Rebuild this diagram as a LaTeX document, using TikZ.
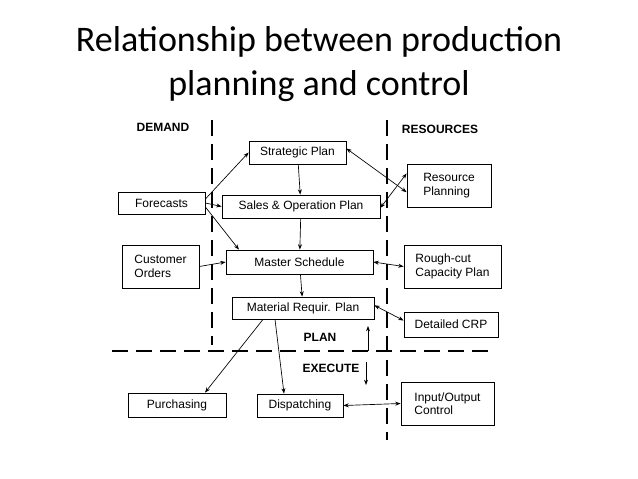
\documentclass[tikz,border=0pt]{standalone}
\usepackage{fontspec}
\setmainfont{Liberation Sans}
\newfontfamily\titlefont{Carlito}
\usetikzlibrary{arrows.meta}
\begin{document}
\begin{tikzpicture}[x=0.75pt,y=-0.75pt,
 ar/.style={-{Stealth[length=4pt,width=3pt]},line width=0.5pt},
 dar/.style={{Stealth[length=4pt,width=3pt]}-{Stealth[length=4pt,width=3pt]},line width=0.5pt},
 thickdash/.style={line width=2.2pt,dash pattern=on 12pt off 6pt},
 lab/.style={font=\fontsize{9}{10}\selectfont\bfseries},
 bx/.style={draw,line width=0.6pt,font=\fontsize{9}{10}\selectfont,align=left,inner sep=1pt}]
\useasboundingbox (0,0) rectangle (638,478);
\node[font=\titlefont\fontsize{27}{33}\selectfont,align=center] (title) at (319,64) {Relationship between production\\planning and control};
% dashed lines
\draw[thickdash] (212,120) -- (212,345);
\draw[thickdash] (387,120) -- (387,440);
\draw[thickdash] (112,351) -- (490,351);
\node[lab] (demand) at (163,127) {DEMAND};
\node[lab] (resources) at (440,129) {RESOURCES};
\node[lab] (plan) at (320,337) {PLAN};
\node[lab] (execute) at (331,368) {EXECUTE};
% boxes
\node[bx,minimum width=72.75pt,minimum height=17.25pt] (sp) at (297.5,152.5) {Strategic Plan};
\node[bx,minimum width=118.5pt,minimum height=17.25pt] (sop) at (301,206.5) {Sales \& Operation Plan};
\node[bx,minimum width=65.25pt,minimum height=16.5pt] (fc) at (161.5,203) {Forecasts};
\node[bx,minimum width=63pt,minimum height=32.25pt] (rp) at (449,185.5) {Resource\\Planning};
\node[bx,minimum width=57.75pt,minimum height=32.25pt] (co) at (160.5,266.5) {Customer\\Orders};
\node[bx,minimum width=110.25pt,minimum height=18pt] (ms) at (299.5,262) {Master Schedule};
\node[bx,minimum width=72.75pt,minimum height=32.25pt] (rc) at (452.5,266.5) {Rough-cut\\Capacity Plan};
\node[bx,minimum width=106.5pt,minimum height=16.5pt] (mrp) at (303,308) {Material Requir. Plan};
\node[bx,minimum width=70.5pt,minimum height=18.75pt] (crp) at (451,324.5) {Detailed CRP};
\node[bx,minimum width=73.5pt,minimum height=18pt] (pu) at (177,405) {Purchasing};
\node[bx,minimum width=64.5pt,minimum height=17.25pt] (di) at (300,405.5) {Dispatching};
\node[bx,minimum width=69.75pt,minimum height=32.25pt] (io) at (447.5,403.5) {Input/Output\\Control};
% connectors
\draw[ar] ([yshift=3pt]fc.east) -- (sp.west);
\draw[ar] (fc.east) -- (sop.west);
\draw[ar] ([yshift=-3pt]fc.east) -- ([xshift=10pt]ms.north west);
\draw[ar] (sp) -- (sop);
\draw[ar] (sop) -- (ms);
\draw[ar] (ms) -- (mrp);
\draw[dar] ([yshift=3pt]sp.east) -- ([yshift=-5pt]rp.west);
\draw[dar] ([yshift=-1pt]sop.east) -- ([yshift=9pt]rp.west);
\draw[ar] (co.east) -- (ms.west);
\draw[dar] (ms.east) -- (rc.west);
\draw[dar] ([yshift=2pt]mrp.east) -- ([yshift=3pt]crp.west);
\draw[ar] ([xshift=-30pt]mrp.south) -- ([xshift=21pt]pu.north);
\draw[ar] ([xshift=-21pt]mrp.south) -- ([xshift=-12pt]di.north);
\draw[dar] (di.east) -- (io.west);
\coordinate (u1) at (368,351); \coordinate (u2) at (368,326);
\draw[ar] (u1) -- (u2);
\coordinate (d1) at (366,362); \coordinate (d2) at (366,385);
\draw[ar] (d1) -- (d2);
\end{tikzpicture}
\end{document}
